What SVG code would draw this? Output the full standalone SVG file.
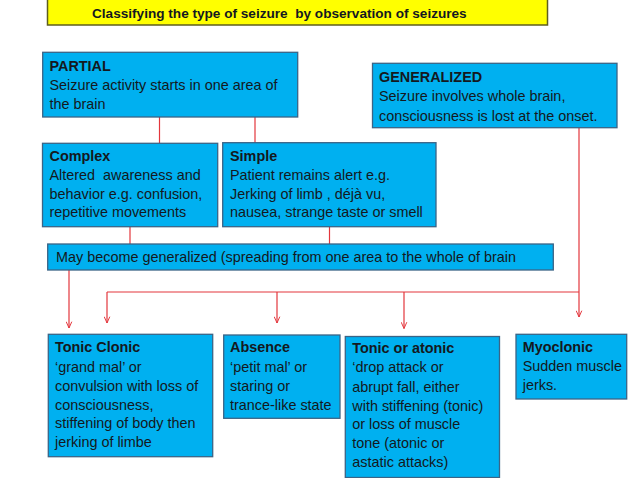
<svg xmlns="http://www.w3.org/2000/svg" width="638" height="478" viewBox="0 0 638 478">
<defs>
<style>
.box{fill:#00B0F0;stroke:#3B6486;stroke-width:1.3}
.title{fill:#FFFF00;stroke:#5E5E1E;stroke-width:1.5}
text{font-family:"Liberation Sans",Arial,sans-serif;font-size:14.4px;fill:#141820;white-space:pre}
.b{font-weight:bold}
.tt{font-weight:bold;font-size:13.6px}
.ln{stroke:#E3363C;stroke-width:1.2;fill:none}
</style>
<marker id="arr" viewBox="0 0 10 10" refX="10" refY="5" markerWidth="7" markerHeight="7" markerUnits="userSpaceOnUse" orient="auto">
<path d="M1,1 L10,5 L1,9" fill="none" stroke="#E3363C" stroke-width="1.4"/>
</marker>
</defs>
<rect width="638" height="478" fill="#fff"/>

<g id="connectors">
<line class="ln" x1="159.5" y1="117" x2="159.5" y2="143"/>
<line class="ln" x1="255" y1="117" x2="255" y2="143"/>
<line class="ln" x1="130" y1="226.7" x2="130" y2="244"/>
<line class="ln" x1="329.5" y1="226.7" x2="329.5" y2="244"/>
<line class="ln" x1="69" y1="270" x2="69" y2="328" marker-end="url(#arr)"/>
<line class="ln" x1="579" y1="128" x2="579" y2="317" marker-end="url(#arr)"/>
<line class="ln" x1="107" y1="292" x2="579" y2="292"/>
<line class="ln" x1="107" y1="292" x2="107" y2="323" marker-end="url(#arr)"/>
<line class="ln" x1="277" y1="292" x2="277" y2="323" marker-end="url(#arr)"/>
<line class="ln" x1="404" y1="292" x2="404" y2="328.5" marker-end="url(#arr)"/>
</g>

<g id="title">
<rect class="title" x="47.5" y="-2" width="500" height="27"/>
<text class="tt" x="92" y="18.3">Classifying the type of seizure  by observation of seizures</text>
</g>

<g id="partial">
<rect class="box" x="42.7" y="52.3" width="255" height="64.7"/>
<text class="b" x="49.5" y="71">PARTIAL</text>
<text x="49.5" y="90">Seizure activity starts in one area of</text>
<text x="49.5" y="108.7">the brain</text>
</g>

<g id="generalized">
<rect class="box" x="372.5" y="63.3" width="244.5" height="64.4"/>
<text class="b" x="379" y="81.7">GENERALIZED</text>
<text x="379" y="101">Seizure involves whole brain,</text>
<text x="379" y="120.5">consciousness is lost at the onset.</text>
</g>

<g id="complex">
<rect class="box" x="42.5" y="143.3" width="175.2" height="83.4"/>
<text class="b" x="49.5" y="160.7">Complex</text>
<text x="49.5" y="180">Altered  awareness and</text>
<text x="49.5" y="198.5">behavior e.g. confusion,</text>
<text x="49.5" y="217.3">repetitive movements</text>
</g>

<g id="simple">
<rect class="box" x="222.7" y="142.7" width="213.3" height="84"/>
<text class="b" x="230" y="160.7">Simple</text>
<text x="230" y="180">Patient remains alert e.g.</text>
<text x="230" y="198.5">Jerking of limb , déjà vu,</text>
<text x="230" y="217.3">nausea, strange taste or smell</text>
</g>

<g id="may-become-generalized">
<rect class="box" x="47.7" y="244" width="505.6" height="26"/>
<text x="56" y="261.7">May become generalized (spreading from one area to the whole of brain</text>
</g>

<g id="tonic-clonic">
<rect class="box" x="48.3" y="334.3" width="164.4" height="122.4"/>
<text class="b" x="55" y="352.3">Tonic Clonic</text>
<text x="55" y="371.5">‘grand mal’ or</text>
<text x="55" y="390.5">convulsion with loss of</text>
<text x="55" y="409.5">consciousness,</text>
<text x="55" y="428.3">stiffening of body then</text>
<text x="55" y="447">jerking of limbe</text>
</g>

<g id="absence">
<rect class="box" x="223.7" y="335" width="116.3" height="83.3"/>
<text class="b" x="230" y="352.3">Absence</text>
<text x="230" y="371.5">‘petit mal’ or</text>
<text x="230" y="390.5">staring or</text>
<text x="230" y="409.5">trance-like state</text>
</g>

<g id="tonic-or-atonic">
<rect class="box" x="345.3" y="336.5" width="154.2" height="141"/>
<text class="b" x="352.3" y="353.3">Tonic or atonic</text>
<text x="352.3" y="372.3">‘drop attack or</text>
<text x="352.3" y="391.5">abrupt fall, either</text>
<text x="352.3" y="410.5">with stiffening (tonic)</text>
<text x="352.3" y="429.3">or loss of muscle</text>
<text x="352.3" y="448.3">tone (atonic or</text>
<text x="352.3" y="467.3">astatic attacks)</text>
</g>

<g id="myoclonic">
<rect class="box" x="516" y="334.3" width="110.7" height="64.7"/>
<text class="b" x="522.7" y="351.7">Myoclonic</text>
<text x="522.7" y="371">Sudden muscle</text>
<text x="522.7" y="390">jerks.</text>
</g>
</svg>
